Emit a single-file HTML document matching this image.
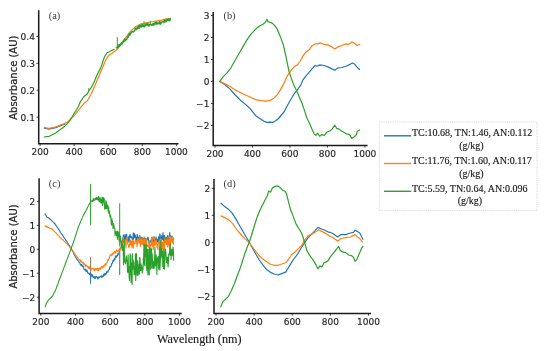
<!DOCTYPE html>
<html><head><meta charset="utf-8"><style>html,body{margin:0;padding:0;background:#fff;width:550px;height:351px;overflow:hidden}svg{display:block}</style></head><body>
<svg width="550" height="351" viewBox="0 0 550 351">
<style>.tk{font-family:"DejaVu Sans",sans-serif;font-size:9px;fill:#262626;stroke:#262626;stroke-width:0.15}.pl{font-family:"Liberation Serif",serif;font-size:10.4px;fill:#3a3a3a}.yl{font-family:"DejaVu Sans",sans-serif;font-size:10px;fill:#262626;stroke:#262626;stroke-width:0.25}.lg{font-family:"Liberation Serif",serif;font-size:10px;fill:#1a1a1a;stroke:#1a1a1a;stroke-width:0.15}</style>
<rect width="550" height="351" fill="#fff"/>
<polyline points="44.3,128.2 46.6,128.7 48.8,129.1 51.1,128.7 53.4,128.2 55.7,127.6 58,126.8 60.2,125.9 62.5,125 64.8,124.2" fill="none" stroke="#1f77b4" stroke-width="1.2" stroke-linejoin="round" stroke-linecap="round" opacity="1"/>
<polyline points="44.3,127.4 46.6,127.9 48.8,128.3 51.1,127.9 53.4,127.4 55.7,126.8 58,126 60.2,125.1 62.5,124.2 64.8,123.4 67.1,122.2 69.4,120.5 71.6,118.2 73.9,116 76.2,113.1 78.5,110.3 80.7,107.4 84.5,102.8 87.1,101.1 89.7,96.8 92.2,91.7 94.8,85.7 97.4,79.7 99.9,73.7 102.5,67.5 104.3,63.5 106,59.5 107.7,56.8 109.4,55 111.7,53.4 114,51.7 116.3,50 118,48.4 120,45 122,42.3 124.2,39.8 126.5,36.6 130.4,31.4 135.5,26.8 140.6,24 145.8,22.8 150.9,22 156,21.1 161.2,20.3 166.3,18.9 169.7,18.5" fill="none" stroke="#ff7f0e" stroke-width="1.2" stroke-linejoin="round" stroke-linecap="round" opacity="1"/>
<polyline points="44.3,137 46.6,136.7 48.8,136.5 51.1,135.3 53.4,134.2 55.7,133 58,131.3 60.2,129.6 62.5,127.9 64.8,126.2 67.1,123.9 69.4,121.1 71.6,117.7 73.9,113.7 76.2,110.3 78.5,106.3 80.3,101.8 83.7,96.8 87.1,94.2 88.8,91 91.4,87.4 94,82.2 96.5,76.3 99.1,70.8 100.3,68.6 102,64.2 103.7,59.1 105.4,55.1 107.1,52.8 109.4,51.7 111.7,50.5 114,49.4" fill="none" stroke="#2ca02c" stroke-width="1.2" stroke-linejoin="round" stroke-linecap="round" opacity="1"/>
<polyline points="116.3,47.51 116.64,48.19 116.98,47.43 117.32,47.89 117.66,47.72 118,45.8 118.34,45.18 118.68,47.19 119.02,45 119.36,44.46 119.7,46.29 120.03,44.47 120.36,45.32 120.69,44 121.01,44.25 121.34,42.54 121.67,43.75 122,44.2 122.37,42.79 122.73,43.06 123.1,42.46 123.47,40.26 123.83,41.96 124.2,41.07 124.53,39.89 124.86,38.76 125.19,40.95 125.51,39.46 125.84,39.89 126.17,40.05 126.5,39.24 126.88,39.29 127.25,37.13 127.62,37.78 128,36.13 128.34,37.19 128.69,36.61 129.03,33.85 129.37,33.55 129.71,33.38 130.06,35.21 130.4,33.21 130.74,33.47 131.08,32.19 131.42,32.5 131.76,31.83 132.1,31.42 132.44,31.82 132.78,31.51 133.12,32.16 133.46,31.19 133.8,31.62 134.14,31.1 134.48,31.19 134.82,29.93 135.16,28.1 135.5,29.88 135.84,30.02 136.18,29.67 136.52,28.49 136.86,28.75 137.2,27.07 137.54,28.75 137.88,27.81 138.22,26.77 138.56,25.93 138.9,28.13 139.24,28.36 139.58,25.49 139.92,27.45 140.26,26.1 140.6,25.15 140.95,25.5 141.29,26.85 141.64,27.08 141.99,24.51 142.33,26.14 142.68,24.35 143.03,26.3 143.37,25.05 143.72,26.62 144.07,26.84 144.41,25.34 144.76,26.74 145.11,24.59 145.45,23.81 145.8,25.3 146.14,23.56 146.48,24.03 146.82,24.62 147.16,25.2 147.5,23.8 147.84,23.43 148.18,25.87 148.52,24.17 148.86,26.08 149.2,25.86 149.54,24.27 149.88,24.48 150.22,24.63 150.56,24.96 150.9,24.79 151.24,24.62 151.58,24.75 151.92,25.66 152.26,24.31 152.6,24.03 152.94,24.84 153.28,23.34 153.62,23.48 153.96,25.45 154.3,24.03 154.64,24.06 154.98,22.39 155.32,23.55 155.66,23.99 156,22.26 156.35,23.99 156.69,23.98 157.04,22.2 157.39,23.84 157.73,23.3 158.08,23.88 158.43,22.84 158.77,23.84 159.12,23.87 159.47,21.67 159.81,21.72 160.16,23.51 160.51,24.31 160.85,22.11 161.2,22.67 161.54,22.93 161.88,21.97 162.22,21.95 162.56,21.65 162.9,21.67 163.24,22.21 163.58,21.17 163.92,21.26 164.26,22.3 164.6,19.91 164.94,21.39 165.28,21.75 165.62,20.32 165.96,19.91 166.3,21.51 166.66,19.72 167.02,19.46 167.38,20.11 167.73,20.79 168.09,18.91 168.45,19.47 168.81,19.4 169.17,20.8 169.53,19.52 169.88,20.67 170.24,18.51 170.6,18.91" fill="none" stroke="#2ca02c" stroke-width="1.3" stroke-linejoin="round" stroke-linecap="round" opacity="1"/>
<polyline points="88.6,92 88.9,88.5" fill="none" stroke="#2ca02c" stroke-width="1.0" stroke-linejoin="round" stroke-linecap="round" opacity="1"/>
<polyline points="117.3,47 117.3,37.5" fill="none" stroke="#2ca02c" stroke-width="1.0" stroke-linejoin="round" stroke-linecap="round" opacity="1"/>
<polyline points="144,24.5 144,21.5" fill="none" stroke="#2ca02c" stroke-width="0.9" stroke-linejoin="round" stroke-linecap="round" opacity="1"/>
<polyline points="150.4,23.8 150.4,21" fill="none" stroke="#2ca02c" stroke-width="0.9" stroke-linejoin="round" stroke-linecap="round" opacity="1"/>
<path d="M38.7,11 L38.7,143.8 L177.7,143.8" fill="none" stroke="#1a1a1a" stroke-width="1.5" stroke-linecap="square"/>
<line x1="40.1" y1="143.8" x2="40.1" y2="146.10000000000002" stroke="#1a1a1a" stroke-width="0.8"/>
<text x="40.1" y="155.1" class="tk" text-anchor="middle">200</text>
<line x1="74.18" y1="143.8" x2="74.18" y2="146.10000000000002" stroke="#1a1a1a" stroke-width="0.8"/>
<text x="74.18" y="155.1" class="tk" text-anchor="middle">400</text>
<line x1="108.25" y1="143.8" x2="108.25" y2="146.10000000000002" stroke="#1a1a1a" stroke-width="0.8"/>
<text x="108.25" y="155.1" class="tk" text-anchor="middle">600</text>
<line x1="142.32" y1="143.8" x2="142.32" y2="146.10000000000002" stroke="#1a1a1a" stroke-width="0.8"/>
<text x="142.32" y="155.1" class="tk" text-anchor="middle">800</text>
<line x1="176.4" y1="143.8" x2="176.4" y2="146.10000000000002" stroke="#1a1a1a" stroke-width="0.8"/>
<text x="176.4" y="155.1" class="tk" text-anchor="middle">1000</text>
<line x1="38.7" y1="117.11" x2="36.4" y2="117.11" stroke="#1a1a1a" stroke-width="0.8"/>
<text x="34.9" y="120.81" class="tk" text-anchor="end">0.1</text>
<line x1="38.7" y1="90.24" x2="36.4" y2="90.24" stroke="#1a1a1a" stroke-width="0.8"/>
<text x="34.9" y="93.94" class="tk" text-anchor="end">0.2</text>
<line x1="38.7" y1="63.37" x2="36.4" y2="63.37" stroke="#1a1a1a" stroke-width="0.8"/>
<text x="34.9" y="67.07" class="tk" text-anchor="end">0.3</text>
<line x1="38.7" y1="36.5" x2="36.4" y2="36.5" stroke="#1a1a1a" stroke-width="0.8"/>
<text x="34.9" y="40.2" class="tk" text-anchor="end">0.4</text>
<text x="54.5" y="19.0" class="pl" text-anchor="middle">(a)</text>
<polyline points="219.8,81.4 225,84.8 230.1,89.1 235.2,95 240.4,100.2 245.5,104.4 250,108.5 252.9,112.1 255.7,115.7 258.6,117.8 261.4,119.5 264.3,121.4 267.1,122.4 270,122.1 272.8,122.4 275.7,120.7 278.5,118.5 281.4,115 284.2,111.7 287.1,106 290.5,100 293.9,94.2 297.4,89.9 300.8,84.8 303,79.8 306,75.8 309,72.3 312,68.9 315,65.5 317,66.3 319.9,64.9 323.9,65.5 327.9,66.9 331.9,68.9 334.9,70.3 337.9,67.9 341.9,67.5 345.9,66.3 348.9,64.9 352.3,62.9 354.8,64.3 356.8,66.9 359.4,69.5" fill="none" stroke="#1f77b4" stroke-width="1.2" stroke-linejoin="round" stroke-linecap="round" opacity="1"/>
<polyline points="219.8,81.4 225,83.9 230.1,86.5 235.2,89.9 240.4,92.5 245.5,95 250.6,97.3 255.7,99.6 260.9,100.7 266,101.2 270,100.4 274.2,97.9 277.1,95 280.3,89.9 283.7,83.9 287.1,76.2 290.5,71.1 293.9,66.8 297.4,64.8 300,61.5 303,55.9 306,51.9 309,49.9 312,45.9 315,43.9 318,43.9 319.9,42.9 323.9,44.3 327.9,44.9 331.9,46.9 334.9,48.9 337.9,46.9 341.9,45.5 345.9,43.9 348.9,44.3 351.9,41.9 354.8,43.5 356.8,45.5 359.8,44.3" fill="none" stroke="#ff7f0e" stroke-width="1.2" stroke-linejoin="round" stroke-linecap="round" opacity="1"/>
<polyline points="219.8,81.4 223,76.8 227,72.8 230.9,67.8 234.9,60.8 238.9,53.8 242.9,46.9 246.9,39.9 250.8,34.3 254.3,30.6 257.1,27.8 260,25.7 263.4,24 265.7,21.7 266.8,19.4 268,21.7 270.2,22.3 272.5,23.4 275.4,26.2 277.1,29.1 278.8,33.1 280.5,37.1 282.2,41.6 283.5,45.5 285.7,55.2 287.4,63.8 289.1,71.5 291.6,79.1 294.2,86 296.8,91.1 299.3,97.1 302.3,104.1 304.7,111.1 307,118.2 309.4,122.9 311.7,128.4 314.1,133.8 315.7,135.4 317.5,133.1 319.6,136.2 321.9,134.6 324.3,135.4 326.6,132.3 329.8,131 332.1,129.1 334.8,125.2 336.8,128.4 339.1,129.1 341.5,131 343.8,132.3 346.2,133.8 348.5,134.2 350.1,135.4 351.7,138.5 354,137 356.4,134.6 357.2,131.5 359.5,129.9" fill="none" stroke="#2ca02c" stroke-width="1.2" stroke-linejoin="round" stroke-linecap="round" opacity="1"/>
<path d="M213.2,12.8 L213.2,145.4 L366.8,145.4" fill="none" stroke="#1a1a1a" stroke-width="1.5" stroke-linecap="square"/>
<line x1="215" y1="145.4" x2="215" y2="147.70000000000002" stroke="#1a1a1a" stroke-width="0.8"/>
<text x="215" y="156.7" class="tk" text-anchor="middle">200</text>
<line x1="252.47" y1="145.4" x2="252.47" y2="147.70000000000002" stroke="#1a1a1a" stroke-width="0.8"/>
<text x="252.47" y="156.7" class="tk" text-anchor="middle">400</text>
<line x1="289.95" y1="145.4" x2="289.95" y2="147.70000000000002" stroke="#1a1a1a" stroke-width="0.8"/>
<text x="289.95" y="156.7" class="tk" text-anchor="middle">600</text>
<line x1="327.42" y1="145.4" x2="327.42" y2="147.70000000000002" stroke="#1a1a1a" stroke-width="0.8"/>
<text x="327.42" y="156.7" class="tk" text-anchor="middle">800</text>
<line x1="364.9" y1="145.4" x2="364.9" y2="147.70000000000002" stroke="#1a1a1a" stroke-width="0.8"/>
<text x="364.9" y="156.7" class="tk" text-anchor="middle">1000</text>
<line x1="213.2" y1="15.5" x2="210.9" y2="15.5" stroke="#1a1a1a" stroke-width="0.8"/>
<text x="209.4" y="19.2" class="tk" text-anchor="end">3</text>
<line x1="213.2" y1="37.5" x2="210.9" y2="37.5" stroke="#1a1a1a" stroke-width="0.8"/>
<text x="209.4" y="41.2" class="tk" text-anchor="end">2</text>
<line x1="213.2" y1="59.5" x2="210.9" y2="59.5" stroke="#1a1a1a" stroke-width="0.8"/>
<text x="209.4" y="63.2" class="tk" text-anchor="end">1</text>
<line x1="213.2" y1="81.5" x2="210.9" y2="81.5" stroke="#1a1a1a" stroke-width="0.8"/>
<text x="209.4" y="85.2" class="tk" text-anchor="end">0</text>
<line x1="213.2" y1="103.5" x2="210.9" y2="103.5" stroke="#1a1a1a" stroke-width="0.8"/>
<text x="209.4" y="107.2" class="tk" text-anchor="end">−1</text>
<line x1="213.2" y1="125.5" x2="210.9" y2="125.5" stroke="#1a1a1a" stroke-width="0.8"/>
<text x="209.4" y="129.2" class="tk" text-anchor="end">−2</text>
<text x="229.5" y="19.2" class="pl" text-anchor="middle">(b)</text>
<polyline points="45,213.7 45.33,214.51 45.67,214.98 46,215.39 46.33,215.73 46.67,216.58 47,217.08 47.36,217.18 47.73,217.45 48.09,217.56 48.45,217.69 48.82,218.19 49.18,218.59 49.55,218.55 49.91,219.26 50.27,219.19 50.64,219.47 51,219.63 51.36,220.56 51.73,220.77 52.09,221.22 52.45,221.42 52.82,221.44 53.18,221.98 53.55,222.44 53.91,222.58 54.27,223.44 54.64,223.46 55,223.69 55.36,224.64 55.73,224.77 56.09,225.79 56.45,226.05 56.82,226.66 57.18,227.08 57.55,227.71 57.91,228.08 58.27,228.53 58.64,229.57 59,229.74 59.36,230.61 59.73,230.82 60.09,231.82 60.45,232.32 60.82,232.78 61.18,233.33 61.55,233.77 61.91,234.4 62.27,234.58 62.64,235.34 63,236.1 63.35,236.26 63.71,237.23 64.06,237.74 64.42,237.99 64.77,238.5 65.13,239.09 65.48,239.59 65.84,240.49 66.19,240.66 66.55,240.98 66.9,241.56 67.26,242.48 67.63,243.19 67.99,243.43 68.35,243.98 68.72,244.56 69.08,245.22 69.45,245.45 69.81,246.23 70.17,246.74 70.54,247.33 70.9,247.61 71.24,248.29 71.58,249.08 71.93,250.11 72.27,250.44 72.61,251.28 72.95,251.78 73.29,252.35 73.63,253.01 73.97,254.14 74.32,254.8 74.66,255.24 75,256.11 75.35,256.63 75.69,257.29 76.04,257.86 76.38,258.05 76.73,258.93 77.07,259.44 77.42,259.75 77.76,260.45 78.11,260.74 78.45,261.2 78.8,261.65 79.15,262.49 79.51,262.52 79.86,262.93 80.22,264.45 80.57,264.83 80.93,264.54 81.28,265.92 81.64,264.34 81.99,265.34 82.35,265.89 82.7,266.69 83.05,266.4 83.39,266.49 83.74,267.54 84.08,269.36 84.43,269.93 84.77,269.67 85.12,269.33 85.46,269.09 85.81,271.28 86.15,270.51 86.5,271.39 86.85,269.92 87.21,270.74 87.56,272.72 87.92,272.95 88.27,273.52 88.63,273.14 88.98,273.03 89.34,273.77 89.69,274.82 90.05,273.76 90.4,274.69 90.75,274.25 91.09,275.77 91.44,274.04 91.78,276.03 92.13,276.96 92.47,274.78 92.82,276.5 93.16,276.86 93.51,277.64 93.85,277.18 94.2,276.57 94.55,277.05 94.91,278.57 95.26,278.53 95.62,276.61 95.97,276.6 96.33,276.69 96.68,276.6 97.04,277.79 97.39,277.08 97.75,279.06 98.1,278.6 98.45,277.07 98.79,277.99 99.14,277.28 99.48,277.57 99.83,276.7 100.17,276.4 100.52,276.3 100.86,276.65 101.21,277.36 101.55,276.78 101.9,275.32 102.25,276.82 102.61,277.02 102.96,276.53 103.32,276.35 103.67,274.08 104.03,275.04 104.38,273.77 104.74,275.37 105.09,273.61 105.45,274.78 105.8,273.36 106.16,274.05 106.51,272.6 106.87,271.44 107.23,271.88 107.59,271.22 107.94,272.3 108.3,270.27 108.67,270.07 109.04,269.44 109.41,269.74 109.79,266.78 110.16,267.35 110.53,266.36 110.9,266.21 111.27,266.09 111.64,263.65 112.01,263.93 112.39,262.75 112.76,262.11 113.13,260.09 113.5,261.32 113.86,261.2 114.21,259.04 114.57,258.4 114.93,259.61 115.29,256.77 115.64,256.14 116,255.59 116.37,257.15 116.74,256.63 117.11,255.45 117.49,255.53 117.86,253.59 118.23,254.85 118.6,253.95 118.94,253.27 119.29,252.07 119.63,251.23 119.97,249.9 120.31,248.57 120.66,248.7 121,247.34 121.38,246.53 121.75,244.82 122.12,242.58 122.5,239.89 123.5,235.02 123.85,239.12 124.2,240.66 124.55,236.67 124.9,234.49 125.25,237.71 125.6,239.07 125.95,240.62 126.3,234.55 126.65,234.3 127,239.45 127.35,238.8 127.7,241.51 128.05,240.04 128.4,237.18 128.75,236.7 129.1,242.59 129.45,236.61 129.8,235.3 130.15,234.37 130.5,237.56 130.85,237.68 131.2,236.4 131.55,237.14 131.9,238.01 132.25,239.11 132.6,240.17 132.95,237.88 133.3,232.7 133.65,239.21 134,233.72 134.35,236.99 134.7,233.64 135.05,237.52 135.4,235.53 135.75,238.15 136.1,242.85 136.45,237.57 136.8,239.94 137.15,234.37 137.5,237.12 137.85,239.65 138.2,237.75 138.55,239.01 138.9,238.39 139.25,235.57 139.6,239.72 139.95,236.21 140.3,243.26 140.65,237.15 141,240.31 141.35,238.61 141.7,241.15 142.05,237.17 142.4,241.4 142.75,238.55 143.1,242.22 143.45,240.63 143.8,239.43 144.15,237.1 144.5,241.18 144.85,240.46 145.2,243.56 145.55,238.37 145.9,240.84 146.25,240.76 146.6,240.22 146.95,240.06 147.3,240.03 147.65,238.03 148,236.98 148.35,238.61 148.7,241.2 149.05,243.6 149.4,242.23 149.75,242.43 150.1,241.72 150.45,241.52 150.8,240.17 151.15,241.69 151.5,244.29 151.85,238.81 152.2,237.83 152.55,244.71 152.9,240.22 153.25,242.08 153.6,241.79 153.95,236.53 154.3,244.64 154.65,244.01 155,239.81 155.35,241.25 155.7,239.57 156.05,236.89 156.4,238.84 156.75,240.04 157.1,241.9 157.45,240.78 157.8,239.03 158.15,242.33 158.5,236.76 158.85,240.73 159.2,241.49 159.55,237.77 159.9,233.8 160.25,236.03 160.6,238.94 160.95,239.62 161.3,242.21 161.65,235.51 162,238.06 162.35,239.67 162.7,237.51 163.05,232.66 163.4,239.9 163.75,242.95 164.1,240.31 164.45,235.26 164.8,236.53 165.15,238.13 165.5,242.71 165.85,239.08 166.2,237.74 166.55,241.46 166.9,237.17 167.25,242.2 167.6,235.56 167.95,236.09 168.3,239.19 168.65,241.01 169,239 169.35,238.08 169.7,232.57 170.05,235.46 170.4,235.74 170.75,235.96 171.1,238.89 171.45,236.52 171.8,239.47 172.15,237.66 172.5,236.62 172.85,237.83 173.2,238.68 173.55,239.84" fill="none" stroke="#1f77b4" stroke-width="1.1" stroke-linejoin="round" stroke-linecap="round" opacity="1"/>
<polyline points="45,226.17 45.33,225.84 45.67,225.93 46,226.67 46.33,226.33 46.67,226.45 47,226.92 47.33,226.9 47.67,227.38 48,227.14 48.36,227.72 48.73,227.48 49.09,227.8 49.45,228.14 49.82,228.14 50.18,228.43 50.55,228.44 50.91,228.19 51.27,228.84 51.64,228.81 52,228.79 52.36,229.08 52.73,229.84 53.09,230.04 53.45,230.62 53.82,230.88 54.18,231.36 54.55,231.49 54.91,231.93 55.27,232.24 55.64,232.39 56,233.17 56.35,233.19 56.71,233.87 57.06,234.37 57.42,234.59 57.77,234.69 58.13,235.5 58.48,235.8 58.84,235.91 59.19,236.23 59.55,236.92 59.9,237.02 60.26,237.87 60.63,237.94 60.99,238.26 61.35,238.52 61.72,238.99 62.08,239.46 62.45,239.41 62.81,239.77 63.17,240.21 63.54,240.36 63.9,240.86 64.26,241.19 64.63,241.49 64.99,241.99 65.35,242.27 65.72,242.37 66.08,243.28 66.45,243.26 66.81,243.67 67.17,244.01 67.54,244.69 67.9,245.07 68.26,245.26 68.63,245.65 68.99,245.92 69.35,246.86 69.72,246.88 70.08,247.56 70.45,247.89 70.81,248.33 71.17,248.81 71.54,249.16 71.9,249.52 72.24,250.3 72.59,250.93 72.93,251.32 73.28,251.53 73.62,252.31 73.97,252.4 74.31,253.09 74.66,253.82 75,254.35 75.35,254.54 75.69,255.24 76.04,255.49 76.38,255.97 76.73,256.47 77.07,257.18 77.42,257.49 77.76,257.79 78.11,258.41 78.45,258.82 78.8,259.11 79.15,259.73 79.51,260.1 79.86,260.33 80.22,261.77 80.57,259.72 80.93,261.33 81.28,262.03 81.64,261.62 81.99,261.54 82.35,263.24 82.7,262.93 83.05,262.79 83.39,262.49 83.74,265.19 84.08,263.88 84.43,263.56 84.77,264.11 85.12,264.5 85.46,266.38 85.81,264.89 86.15,265.43 86.5,265.25 86.85,266.39 87.21,265.89 87.56,266.41 87.92,267.6 88.27,268.27 88.63,268.21 88.98,266.31 89.34,267.36 89.69,268.76 90.05,266.81 90.4,267.43 90.75,268.31 91.09,268.17 91.44,269.26 91.78,269.31 92.13,268.79 92.47,268.37 92.82,268.45 93.16,268.68 93.51,268.3 93.85,269.99 94.2,268.81 94.55,270.71 94.91,270.08 95.26,268.55 95.62,269.7 95.97,269.97 96.33,268.51 96.68,269.67 97.04,268.48 97.39,270.39 97.75,268.41 98.1,270.04 98.45,270.77 98.79,270.22 99.14,268.43 99.48,269.03 99.83,267.81 100.17,268.14 100.52,269.31 100.86,269 101.21,266.71 101.55,267.48 101.9,267.96 102.25,266.47 102.61,267.81 102.96,267.75 103.32,266.57 103.67,265.79 104.03,266.76 104.38,265.6 104.74,264.46 105.09,264.4 105.45,263.8 105.8,265.28 106.16,263.68 106.51,263.43 106.87,263 107.23,262.66 107.59,259.88 107.94,259.7 108.3,260.17 108.67,259.34 109.04,257.82 109.41,257.98 109.79,256.24 110.16,255.61 110.53,254.77 110.9,255.09 111.27,254.34 111.64,254.7 112.01,255.51 112.39,253.01 112.76,253.69 113.13,254.12 113.5,253.06 113.86,252.68 114.21,253.12 114.57,251 114.93,253.22 115.29,252.36 115.64,252.48 116,252.35 116.37,250.28 116.74,250.03 117.11,250.15 117.49,250.83 117.86,251.78 118.23,251.54 118.6,250.07 118.94,250.15 119.29,249.98 119.63,248.45 119.97,249.64 120.31,249.09 120.66,248.06 121,248.04 121.38,246.78 121.75,245.4 122.12,243.54 122.5,242.43 123.5,237.66 123.85,242.98 124.2,241.3 124.55,240.61 124.9,245.19 125.25,242.26 125.6,241.13 125.95,247.73 126.3,240.34 126.65,237.84 127,237.45 127.35,240.12 127.7,243.88 128.05,244.47 128.4,245.35 128.75,247.61 129.1,247.17 129.45,243.76 129.8,245.95 130.15,243.78 130.5,239.87 130.85,244.33 131.2,241.87 131.55,241 131.9,247.91 132.25,244.15 132.6,240.11 132.95,241.42 133.3,247.9 133.65,240.88 134,244.06 134.35,243.7 134.7,243.36 135.05,243.62 135.4,240.18 135.75,240.25 136.1,241.26 136.45,240.64 136.8,244.44 137.15,246.85 137.5,239 137.85,243.68 138.2,238.76 138.55,239.73 138.9,241.24 139.25,242.4 139.6,240.67 139.95,235.55 140.3,246.67 140.65,241.34 141,240.2 141.35,244.52 141.7,240.42 142.05,237.77 142.4,244.04 142.75,243.86 143.1,239.87 143.45,245.32 143.8,243.86 144.15,239.02 144.5,248.43 144.85,243.67 145.2,239.17 145.55,244.37 145.9,243.36 146.25,246.14 146.6,238.66 146.95,246.46 147.3,246.19 147.65,245.43 148,245.2 148.35,247.52 148.7,245.63 149.05,243.75 149.4,240.66 149.75,247.01 150.1,246.63 150.45,244.44 150.8,243.99 151.15,245.87 151.5,236.98 151.85,244.6 152.2,237.02 152.55,244.39 152.9,247.06 153.25,249.79 153.6,242.12 153.95,245.05 154.3,243.43 154.65,237.1 155,246.03 155.35,243.6 155.7,243.87 156.05,240.59 156.4,243.5 156.75,243.89 157.1,247.76 157.45,244.55 157.8,249.82 158.15,242.23 158.5,242.67 158.85,243.34 159.2,240.85 159.55,248.35 159.9,245.51 160.25,239.25 160.6,243.7 160.95,247.04 161.3,238.67 161.65,243.72 162,242.42 162.35,249.4 162.7,244.45 163.05,241.73 163.4,241.19 163.75,249.1 164.1,241.41 164.45,249.12 164.8,237.75 165.15,242.15 165.5,241.95 165.85,240.39 166.2,241.93 166.55,244.81 166.9,240.36 167.25,237.82 167.6,246.79 167.95,247.14 168.3,240.09 168.65,243.27 169,235.68 169.35,245.57 169.7,237.83 170.05,240.3 170.4,248.31 170.75,237.93 171.1,242.05 171.45,238.48 171.8,235.92 172.15,238.1 172.5,242.73 172.85,237.58 173.2,239.88 173.55,244.13" fill="none" stroke="#ff7f0e" stroke-width="1.1" stroke-linejoin="round" stroke-linecap="round" opacity="1"/>
<polyline points="45.2,306.68 45.48,305.92 45.75,304.94 46.02,304.03 46.3,303.1 46.59,303.04 46.87,302.47 47.16,302.18 47.44,301.5 47.73,301.28 48.01,300.52 48.3,300.38 48.6,300.05 48.9,299.56 49.2,299.34 49.5,299.14 49.8,298.55 50.1,298.48 50.4,298.33 50.7,297.72 51,297.75 51.3,297.38 51.6,297.19 51.9,296.59 52.2,296.15 52.5,296.28 52.81,295.66 53.12,294.83 53.43,294 53.74,293.44 54.05,293.08 54.36,292.25 54.67,292.03 54.98,291.19 55.29,290.34 55.6,289.99 55.91,288.98 56.22,288.48 56.53,287.63 56.84,286.55 57.15,285.79 57.46,284.98 57.77,284.2 58.08,283.47 58.39,282.06 58.7,281.42 58.99,280.81 59.28,279.87 59.57,279.29 59.86,278.24 60.15,277.96 60.45,276.99 60.74,275.99 61.03,275.56 61.32,274.6 61.61,273.77 61.9,273.19 62.21,272.15 62.52,271.37 62.83,270.93 63.14,270 63.45,268.76 63.76,268.39 64.07,267.1 64.38,266.46 64.69,265.97 65,264.97 65.31,263.95 65.62,263.17 65.93,262.34 66.24,261.36 66.55,261.05 66.86,259.65 67.17,259.04 67.48,258.41 67.79,257.37 68.1,256.89 68.41,255.62 68.72,255.23 69.03,254.35 69.34,253.38 69.65,252.68 69.96,251.59 70.27,250.99 70.58,250.14 70.89,249.14 71.2,248.28 71.51,247.59 71.82,246.59 72.13,245.56 72.44,245.13 72.75,244.01 73.06,243.31 73.37,242.66 73.68,241.46 73.99,240.54 74.3,239.77 74.59,239.12 74.88,238.04 75.16,237.04 75.45,236.22 75.74,235.57 76.02,234.23 76.31,233.38 76.6,232.73 76.92,231.57 77.24,230.36 77.56,229.48 77.88,228.49 78.2,227.29 78.51,226.64 78.83,225.81 79.14,225.33 79.46,224.25 79.77,223.67 80.09,223.07 80.4,222.25 80.71,221.24 81.03,220.69 81.34,219.83 81.65,219.19 81.96,218.56 82.28,218.05 82.59,217.45 82.9,216.37 83.2,215.62 83.5,215.29 83.8,214.47 84.1,213.87 84.4,213.73 84.7,212.74 85,212.52 85.3,211.72 85.6,211.5 85.9,210.89 86.2,209.86 86.5,209.38 86.8,209.27 87.12,208.37 87.44,207.55 87.76,207.07 88.08,206.39 88.4,205.5 88.72,204.94 89.04,204.18 89.36,203.8 89.68,203.13 90,202.88 90.3,202.5 90.6,201.87 90.9,201.8 91.2,201.12 91.5,200.76 91.8,200.9 92.1,200.52 92.4,201.56 92.7,200.61 93,200.63 93.3,198.83 93.6,200.62 93.9,198.33 94.2,199.67 94.5,200.33 94.8,200.15 95.1,199.95 95.4,198.55 95.7,199.07 96,199.18 96.3,197.18 96.59,199.49 96.88,199.44 97.16,198.04 97.45,199.85 97.74,198.17 98.02,197.34 98.31,199.65 98.6,196.33 98.9,200.4 99.2,201.56 99.5,198.2 99.8,201.84 100.1,197.62 100.4,201.89 100.7,199.12 101,202.92 101.3,200.43 101.6,203.27 101.9,198.92 102.2,197.08 102.5,205.41 102.8,203.74 103.1,202.89 103.39,197.58 103.68,199.35 103.97,201.74 104.26,198.46 104.54,209.03 104.83,206.75 105.12,209 105.41,206.49 105.7,202.78 105.98,200.57 106.27,208.48 106.55,202.4 106.83,207.89 107.12,207.69 107.4,208.74 107.68,204.99 107.97,205.85 108.25,211.62 108.53,207.1 108.82,213.41 109.1,210.15 109.38,212.45 109.67,211.86 109.95,217.3 110.23,216.17 110.52,215.2 110.8,216.04 111.08,220.65 111.37,225.32 111.65,220.76 111.93,218.8 112.22,221.33 112.5,221.34 112.78,225.71 113.07,228.78 113.35,227.11 113.63,223.64 113.92,225.86 114.2,227.19 114.49,228.33 114.78,228.33 115.07,235.41 115.36,230.97 115.64,232.67 115.93,233.75 116.22,233.44 116.51,235.68 116.8,231.39 117.09,235.3 117.38,239.33 117.67,231.11 117.96,236.85 118.24,234.87 118.53,231.97 118.82,232.41 119.11,240.98 119.4,234.56 119.71,241.87 120.03,235.9 120.34,239.59 120.65,236.65 120.96,243.02 121.28,246.45 121.59,241.03 121.9,245.52 122.18,250.25 122.45,244.13 122.72,246.88 123,250.47 123.2,250 123.53,264.85 123.86,246.5 124.19,239.22 124.52,257.99 124.85,262.44 125.18,261.65 125.51,264.05 125.84,259.96 126.17,256.83 126.5,256.09 126.83,261.3 127.16,260.53 127.49,272.29 127.82,270.28 128.15,254.84 128.48,272.14 128.81,266.54 129.14,276.9 129.47,280.79 129.8,273.29 130.13,253.68 130.46,274.48 130.79,255.54 131.12,282.34 131.45,263.27 131.78,267.3 132.11,284.54 132.44,253.79 132.77,269.18 133.1,259.71 133.43,264.47 133.76,262.08 134.09,274.79 134.42,266.34 134.75,271.91 135.08,274.38 135.41,253.9 135.74,280.38 136.07,265.97 136.4,253.57 136.73,261.9 137.06,274.81 137.39,275.66 137.72,260.86 138.05,267.41 138.38,268.33 138.71,274.92 139.04,264.57 139.37,273.93 139.7,257.51 140.03,258.73 140.36,270.44 140.69,270.68 141.02,263.75 141.35,269.13 141.68,265.43 142.01,270.02 142.34,273.18 142.67,267.35 143,269.69 143.33,258.91 143.66,257.23 143.99,243.81 144.32,265.07 144.65,261.54 144.98,265.62 145.31,244.65 145.64,256.52 145.97,255.77 146.3,244.83 146.63,268.2 146.96,270.79 147.29,249.04 147.62,263.8 147.95,274.76 148.28,249.16 148.61,268.11 148.94,273.19 149.27,275.29 149.6,247.32 149.93,249.79 150.26,260.75 150.59,269.32 150.92,247.88 151.25,252.22 151.58,248.99 151.91,268.22 152.24,253.69 152.57,263.46 152.9,264.02 153.23,268.44 153.56,261.92 153.89,261.16 154.22,268.23 154.55,262.23 154.88,247.04 155.21,253.36 155.54,265.98 155.87,259.38 156.2,255.17 156.53,260.43 156.86,274.37 157.19,258 157.52,262.71 157.85,262.55 158.18,256.27 158.51,269.08 158.84,266.23 159.17,262.31 159.5,247.11 159.83,269.95 160.16,265.61 160.49,258.08 160.82,240.67 161.15,258.03 161.48,247.82 161.81,256.27 162.14,253.69 162.47,250.78 162.8,266.71 163.13,258.73 163.46,268.39 163.79,249.06 164.12,255.68 164.45,269.11 164.78,259.92 165.11,250.62 165.44,249.04 165.77,251.51 166.1,255.81 166.43,262.42 166.76,257.56 167.09,262.74 167.42,263.35 167.75,256.93 168.08,267.01 168.41,262.06 168.74,253.88 169.07,253.92 169.4,255.06 169.73,248.64 170.06,243.24 170.39,255.11 170.72,250.14 171.05,259.57 171.38,249.08 171.71,254.98 172.04,255.69 172.37,249.68 172.7,255.31 173.03,247.14 173.36,249.55 173.69,260.11" fill="none" stroke="#2ca02c" stroke-width="1.1" stroke-linejoin="round" stroke-linecap="round" opacity="1"/>
<polyline points="90.6,257.5 90.6,283.5" fill="none" stroke="#1f77b4" stroke-width="1.0" stroke-linejoin="round" stroke-linecap="round" opacity="1"/>
<polyline points="90.6,257.5 90.6,272" fill="none" stroke="#ff7f0e" stroke-width="1.0" stroke-linejoin="round" stroke-linecap="round" opacity="0.6"/>
<polyline points="90.6,184.4 90.6,225" fill="none" stroke="#2ca02c" stroke-width="1.0" stroke-linejoin="round" stroke-linecap="round" opacity="1"/>
<polyline points="119.7,251.5 119.7,274.6" fill="none" stroke="#1f77b4" stroke-width="1.0" stroke-linejoin="round" stroke-linecap="round" opacity="1"/>
<polyline points="119.7,248 119.7,268" fill="none" stroke="#ff7f0e" stroke-width="1.0" stroke-linejoin="round" stroke-linecap="round" opacity="0.7"/>
<polyline points="119.7,203.7 119.7,246" fill="none" stroke="#2ca02c" stroke-width="1.0" stroke-linejoin="round" stroke-linecap="round" opacity="1"/>
<path d="M39.1,179 L39.1,313.4 L181,313.4" fill="none" stroke="#1a1a1a" stroke-width="1.5" stroke-linecap="square"/>
<line x1="40.8" y1="313.4" x2="40.8" y2="315.7" stroke="#1a1a1a" stroke-width="0.8"/>
<text x="40.8" y="324.7" class="tk" text-anchor="middle">200</text>
<line x1="75.47" y1="313.4" x2="75.47" y2="315.7" stroke="#1a1a1a" stroke-width="0.8"/>
<text x="75.47" y="324.7" class="tk" text-anchor="middle">400</text>
<line x1="110.15" y1="313.4" x2="110.15" y2="315.7" stroke="#1a1a1a" stroke-width="0.8"/>
<text x="110.15" y="324.7" class="tk" text-anchor="middle">600</text>
<line x1="144.82" y1="313.4" x2="144.82" y2="315.7" stroke="#1a1a1a" stroke-width="0.8"/>
<text x="144.82" y="324.7" class="tk" text-anchor="middle">800</text>
<line x1="179.5" y1="313.4" x2="179.5" y2="315.7" stroke="#1a1a1a" stroke-width="0.8"/>
<text x="179.5" y="324.7" class="tk" text-anchor="middle">1000</text>
<line x1="39.1" y1="201.4" x2="36.8" y2="201.4" stroke="#1a1a1a" stroke-width="0.8"/>
<text x="35.3" y="205.1" class="tk" text-anchor="end">2</text>
<line x1="39.1" y1="225.35" x2="36.8" y2="225.35" stroke="#1a1a1a" stroke-width="0.8"/>
<text x="35.3" y="229.05" class="tk" text-anchor="end">1</text>
<line x1="39.1" y1="249.3" x2="36.8" y2="249.3" stroke="#1a1a1a" stroke-width="0.8"/>
<text x="35.3" y="253" class="tk" text-anchor="end">0</text>
<line x1="39.1" y1="273.25" x2="36.8" y2="273.25" stroke="#1a1a1a" stroke-width="0.8"/>
<text x="35.3" y="276.95" class="tk" text-anchor="end">−1</text>
<line x1="39.1" y1="297.2" x2="36.8" y2="297.2" stroke="#1a1a1a" stroke-width="0.8"/>
<text x="35.3" y="300.9" class="tk" text-anchor="end">−2</text>
<text x="54.6" y="186.7" class="pl" text-anchor="middle">(c)</text>
<polyline points="221,203.3 224,205.9 228,208.9 232,212.9 235.9,218.9 238.4,223.5 241.8,229.5 245.3,235.5 248.7,241.3 252.1,247.5 255.5,253.5 259,259.5 262.4,264.3 266.3,269.2 270.1,272.1 274,274 277.9,275 281.7,273.6 285.6,272.1 287.5,269.2 290.4,264.4 293.4,259.5 297.2,254.7 300,250 303.9,243.8 307.9,237.8 311.9,233.8 314.9,230.8 317.9,227.4 320.9,228.8 323.9,229.8 327.8,231.8 330,232.3 333.1,233.8 337.8,237 341,234.6 345.7,234.6 350.4,233 353.5,232.3 355.1,230.2 357.5,231.5 359.8,233 361.4,236.2 362.9,239.3" fill="none" stroke="#1f77b4" stroke-width="1.2" stroke-linejoin="round" stroke-linecap="round" opacity="1"/>
<polyline points="221,215.9 225,217.9 229,219.9 232.9,223.9 235,227 238.4,231.5 241.8,235.5 245.3,239.1 248.7,242.1 252.1,246.5 255.5,251 259,255.5 262.4,258.8 266.3,261.5 270.1,264 274,265.3 277.9,265.3 281.7,264 285.6,262.8 288.5,259.5 291.4,254.7 295.3,251.8 299.2,247.9 302.1,245 304,240.9 308,235.9 312,233.9 315.9,231.8 318.9,229.8 321.9,231.4 325.8,233.4 330,236.2 333.1,237.7 337.8,240.9 341,238.5 345.7,237.7 350.4,237 353.5,235.4 355.1,234.6 357.5,237 359.8,238.5 361.4,240.9 362.5,241.9" fill="none" stroke="#ff7f0e" stroke-width="1.2" stroke-linejoin="round" stroke-linecap="round" opacity="1"/>
<polyline points="220.8,306.9 222.7,302.1 225.6,299.2 228.5,296.3 231.4,290.5 234.3,283.7 237.2,276 239.5,270 241.3,265 244.1,255.8 247,247.8 249.3,242.1 251.5,235.3 254.6,225 257.1,217.2 259.7,210.8 262.3,205.6 264.8,200.5 267.4,195.4 268.7,190.9 270.6,192.2 272.5,187.7 275.1,186.4 277.6,185.8 280.2,187.7 282.8,190.3 285.3,191.5 286.6,194.1 288.5,201.8 290.5,209.5 293,215.9 296,223.9 298.9,228.8 301.9,233.8 303.9,240 305.5,245.5 307,250.9 310,255.9 313,259.9 316,264.9 317.9,268.8 319.9,265.9 321.9,266.9 323.9,262.9 327.9,260.9 330,257.4 333.1,253.4 336.3,249.5 338.6,246.4 340.2,250.3 342.5,251.9 345.7,252.6 348.8,255 352,255.8 353.5,257.4 355.1,261.3 356.7,259.7 359,254.2 361.4,248.7 362.9,246.4" fill="none" stroke="#2ca02c" stroke-width="1.2" stroke-linejoin="round" stroke-linecap="round" opacity="1"/>
<path d="M214,179.8 L214,313.4 L370.3,313.4" fill="none" stroke="#1a1a1a" stroke-width="1.5" stroke-linecap="square"/>
<line x1="216" y1="313.4" x2="216" y2="315.7" stroke="#1a1a1a" stroke-width="0.8"/>
<text x="216" y="324.7" class="tk" text-anchor="middle">200</text>
<line x1="254.12" y1="313.4" x2="254.12" y2="315.7" stroke="#1a1a1a" stroke-width="0.8"/>
<text x="254.12" y="324.7" class="tk" text-anchor="middle">400</text>
<line x1="292.25" y1="313.4" x2="292.25" y2="315.7" stroke="#1a1a1a" stroke-width="0.8"/>
<text x="292.25" y="324.7" class="tk" text-anchor="middle">600</text>
<line x1="330.38" y1="313.4" x2="330.38" y2="315.7" stroke="#1a1a1a" stroke-width="0.8"/>
<text x="330.38" y="324.7" class="tk" text-anchor="middle">800</text>
<line x1="368.5" y1="313.4" x2="368.5" y2="315.7" stroke="#1a1a1a" stroke-width="0.8"/>
<text x="368.5" y="324.7" class="tk" text-anchor="middle">1000</text>
<line x1="214" y1="188.25" x2="211.7" y2="188.25" stroke="#1a1a1a" stroke-width="0.8"/>
<text x="210.2" y="191.95" class="tk" text-anchor="end">2</text>
<line x1="214" y1="215.31" x2="211.7" y2="215.31" stroke="#1a1a1a" stroke-width="0.8"/>
<text x="210.2" y="219.01" class="tk" text-anchor="end">1</text>
<line x1="214" y1="242.37" x2="211.7" y2="242.37" stroke="#1a1a1a" stroke-width="0.8"/>
<text x="210.2" y="246.07" class="tk" text-anchor="end">0</text>
<line x1="214" y1="269.43" x2="211.7" y2="269.43" stroke="#1a1a1a" stroke-width="0.8"/>
<text x="210.2" y="273.13" class="tk" text-anchor="end">−1</text>
<line x1="214" y1="296.49" x2="211.7" y2="296.49" stroke="#1a1a1a" stroke-width="0.8"/>
<text x="210.2" y="300.19" class="tk" text-anchor="end">−2</text>
<text x="229.6" y="186.6" class="pl" text-anchor="middle">(d)</text>
<text transform="translate(17.2,77.7) rotate(-90)" class="yl" text-anchor="middle">Absorbance (AU)</text>
<text transform="translate(17.2,246.5) rotate(-90)" class="yl" text-anchor="middle">Absorbance (AU)</text>
<text x="156.9" y="342.8" class="pl" style="font-size:12.2px;fill:#1a1a1a;stroke:#1a1a1a;stroke-width:0.15">Wavelength (nm)</text>
<rect x="379.3" y="122" width="157.7" height="88.6" fill="#fff" stroke="#cfcfcf" stroke-width="0.8" stroke-dasharray="1.2,1"/>
<line x1="384" y1="135.8" x2="411.2" y2="135.8" stroke="#1f77b4" stroke-width="1.4"/>
<text x="411.9" y="136.3" class="lg">TC:10.68, TN:1.46, AN:0.112</text>
<text x="471.4" y="148.7" class="lg" text-anchor="middle">(g/kg)</text>
<line x1="384" y1="163.5" x2="411.2" y2="163.5" stroke="#ff7f0e" stroke-width="1.4"/>
<text x="411.9" y="164.4" class="lg">TC:11.76, TN:1.60, AN:0.117</text>
<text x="471.4" y="176.8" class="lg" text-anchor="middle">(g/kg)</text>
<line x1="384" y1="191.3" x2="411.2" y2="191.3" stroke="#2ca02c" stroke-width="1.4"/>
<text x="411.9" y="191.6" class="lg">TC:5.59, TN:0.64, AN:0.096</text>
<text x="470.0" y="204" class="lg" text-anchor="middle">(g/kg)</text>
</svg>
</body></html>
